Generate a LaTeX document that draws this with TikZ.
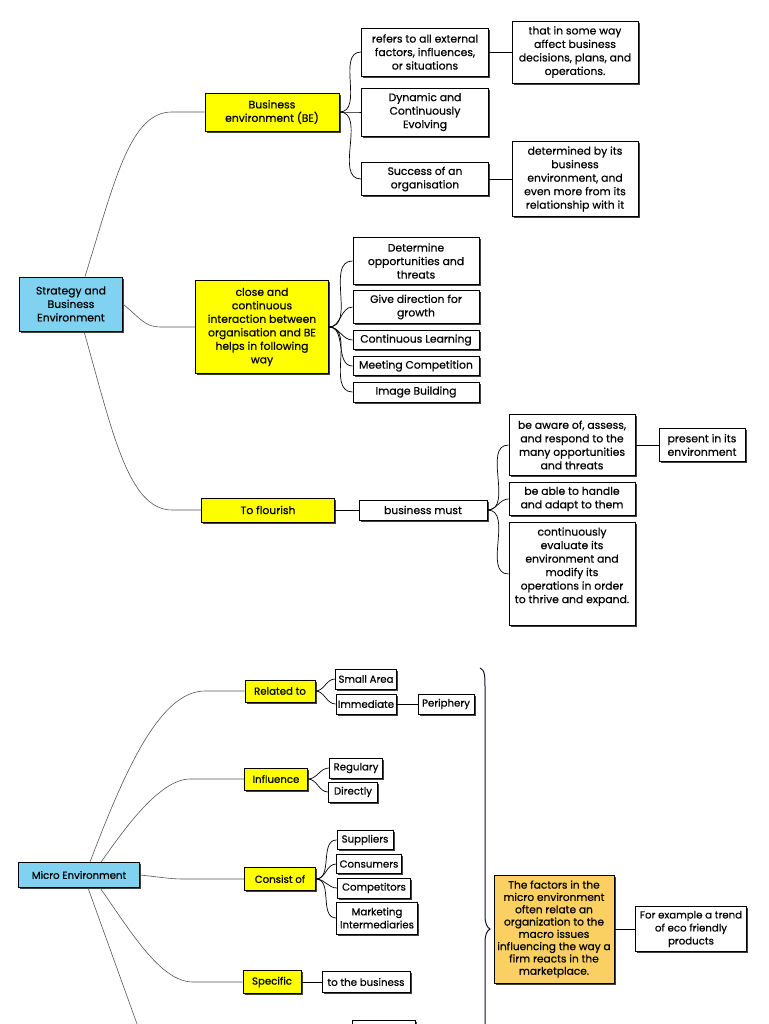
\documentclass[tikz,border=0pt]{standalone}
\usepackage{fontspec}
\setmainfont{Poppins}[FakeBold=0.5]
\usetikzlibrary{shadows,calc}
\definecolor{skyblue}{RGB}{128,210,240}
\definecolor{hiyellow}{RGB}{255,255,0}
\definecolor{ochre}{RGB}{251,208,98}
\definecolor{linegrey}{RGB}{85,85,85}
\definecolor{bracenavy}{RGB}{15,15,55}

\begin{document}
\begin{tikzpicture}[x=1pt,y=-1pt,
  every node/.style={font=\fontsize{10.8}{13.5}\selectfont},
  box/.style={draw=black, line width=0.8pt, fill=white, align=center,
    inner xsep=1pt, inner ysep=1pt,
    drop shadow={shadow xshift=1.6pt, shadow yshift=-1.6pt, fill=black!75, opacity=1}},
  rootbox/.style={box, fill=skyblue},
  keybox/.style={box, fill=hiyellow},
  notebox/.style={box, fill=ochre},
  sz/.style 2 args={minimum width=#1, minimum height=#2},
  trunk/.style={draw=linegrey, line width=0.6pt},
  twig/.style={draw=black, line width=0.7pt},
]
\useasboundingbox (0,0) rectangle (768,1024);

% strategy map
\node[rootbox, sz={103}{54}] (strat) at (71,304) {Strategy and\\Business\\Environment};
\node[keybox, sz={134}{38}] (be) at (272,112) {Business\\environment (BE)};
\node[keybox, sz={133}{93}] (close) at (262,327) {close and\\continuous\\interaction between\\organisation and BE\\helps in following\\way};
\node[keybox, sz={133}{24}] (flourish) at (268,510) {To flourish};

\node[box, sz={127}{48}] (refers) at (425,52) {refers to all external\\factors, influences,\\or situations};
\node[box, sz={126}{62}] (affect) at (575,52) {that in some way\\affect business\\decisions, plans, and\\operations.};
\node[box, sz={127}{48}] (dynamic) at (425,112) {Dynamic and\\Continuously\\Evolving};
\node[box, sz={127}{33}] (success) at (425,179) {Success of an\\organisation};
\node[box, sz={126}{75}] (determined) at (575,179) {determined by its\\business\\environment, and\\even more from its\\relationship with it};

\node[box, sz={126}{47}] (threats) at (416,261) {Determine\\opportunities and\\threats};
\node[box, sz={126}{33}] (growth) at (416,307) {Give direction for\\growth};
\node[box, sz={126}{19}] (learning) at (416,340) {Continuous Learning};
\node[box, sz={126}{19}] (competition) at (416,366) {Meeting Competition};
\node[box, sz={126}{20}] (image) at (416,392) {Image Building};

\node[box, sz={128}{20}] (must) at (423,510) {business must};
\node[box, sz={126}{61}] (aware) at (572,445) {be aware of, assess,\\and respond to the\\many opportunities\\and threats};
\node[box, sz={86}{33}] (present) at (702,445) {present in its\\environment};
\node[box, sz={126}{33}] (handle) at (572,499) {be able to handle\\and adapt to them};
\node[box, sz={126}{103}] (evaluate) at (572,574) {continuously\\evaluate its\\environment and\\modify its\\operations in order\\to thrive and expand.\\[4pt]};

\draw[trunk] ($(strat.north)+(14,0)$) .. controls (115,180) and (130,112) .. (172,112) -- (be.west);
\draw[trunk] (strat.east) .. controls (140,318) and (145,327) .. (160,327) -- (close.west);
\draw[trunk] ($(strat.south)+(13,0)$) .. controls (112,430) and (128,510) .. (172,510) -- (flourish.west);

\foreach \c in {refers,dynamic,success}
  \draw[twig] (be.east) to[out=0,in=180] (\c.west);
\foreach \c in {threats,growth,learning,competition,image}
  \draw[twig] (close.east) to[out=0,in=180] (\c.west);
\foreach \c in {aware,handle,evaluate}
  \draw[twig] (must.east) to[out=0,in=180] (\c.west);
\draw[twig] (refers) -- (affect);
\draw[twig] (success) -- (determined);
\draw[twig] (flourish) -- (must);
\draw[twig] (aware) -- (present);

% micro environment map
\begin{scope}[every node/.style={font=\fontsize{10.2}{13}\selectfont}]
\node[rootbox, sz={121}{25}] (micro) at (79,875) {Micro Environment};
\node[keybox, sz={70}{22}] (related) at (280,691) {Related to};
\node[box, sz={61}{20}] (small) at (366,679) {Small Area};
\node[box, sz={60}{20}] (immediate) at (366,704) {Immediate};
\node[box, sz={56}{20}] (periphery) at (446,704) {Periphery};
\node[keybox, sz={63}{22}] (influence) at (276,779) {Influence};
\node[box, sz={53}{20}] (regulary) at (356,768) {Regulary};
\node[box, sz={49}{20}] (directly) at (353,792) {Directly};
\node[keybox, sz={71}{23}] (consist) at (280,879) {Consist of};
\node[box, sz={56}{19}] (suppliers) at (365,840) {Suppliers};
\node[box, sz={65}{19}] (consumers) at (369,864) {Consumers};
\node[box, sz={73}{20}] (competitors) at (374,888) {Competitors};
\node[box, sz={81}{32}] (intermed) at (377,918) {Marketing\\Intermediaries};
\node[keybox, sz={58}{23}] (specific) at (272,982) {Specific};
\node[box, sz={88}{21}] (business) at (366,982) {to the business};
\node[box, sz={63}{30}] (hidden) at (384,1035) {};
\coordinate (offpage) at (141,1035);

\node[notebox, sz={120}{108}, font=\fontsize{10.6}{12.3}\selectfont] (factors) at (554,929) {The factors in the\\micro environment\\often relate an\\organization to the\\macro issues\\influencing the way a\\firm reacts in the\\marketplace.};
\node[box, sz={111}{45}] (example) at (691,929) {For example a trend\\of eco friendly\\products};
\end{scope}

\draw[trunk] ($(micro.north)+(11,0)$) .. controls (125,770) and (160,691) .. (205,691) -- (related.west);
\draw[trunk] ($(micro.north)+(22,0)$) .. controls (125,828) and (160,779) .. (190,779) -- (influence.west);
\draw[trunk] (micro.east) .. controls (160,877) and (170,879) .. (183,879) -- (consist.west);
\draw[trunk] ($(micro.south)+(21,0)$) .. controls (130,930) and (160,982) .. (193,982) -- (specific.west);
\draw[trunk] ($(micro.south)+(9,0)$) -- (offpage);

\foreach \c in {small,immediate}
  \draw[twig] (related.east) to[out=0,in=180] (\c.west);
\foreach \c in {regulary,directly}
  \draw[twig] (influence.east) to[out=0,in=180] (\c.west);
\foreach \c in {suppliers,consumers,competitors,intermed}
  \draw[twig] (consist.east) to[out=0,in=180] (\c.west);
\draw[twig] (immediate) -- (periphery);
\draw[twig] (specific) -- (business);
\draw[twig] (factors) -- (example);

% brace
\draw[bracenavy, line width=1pt] (480,668) .. controls (485,670) and (485,676) .. (485,690)
  -- (485,915) .. controls (485,924) and (487,927) .. (490,929)
  .. controls (487,931) and (485,934) .. (485,943) -- (485,1030);
\end{tikzpicture}
\end{document}
